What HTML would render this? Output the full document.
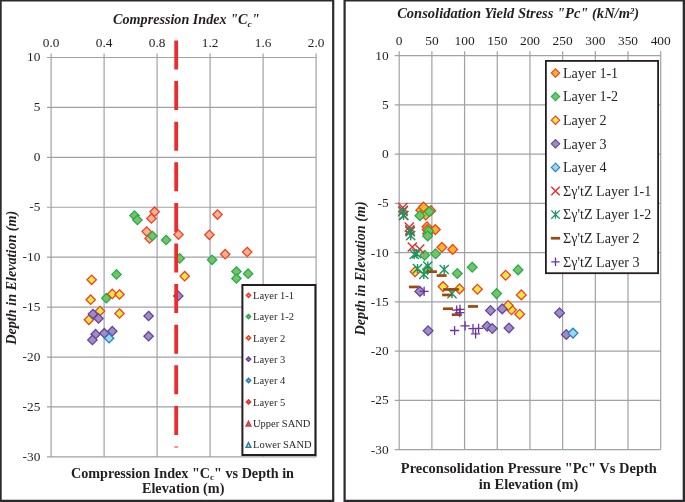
<!DOCTYPE html>
<html lang="en"><head><meta charset="utf-8"><title>Compression Index and Consolidation Yield Stress vs Depth</title>
<style>html,body{margin:0;padding:0;background:#fff}body{width:685px;height:502px;overflow:hidden}svg{display:block}</style>
</head><body>
<svg width="685" height="502" viewBox="0 0 685 502" font-family='"Liberation Serif", serif' fill="#231f20">
<rect x="0" y="0" width="685" height="502" fill="#fff"/>
<path fill-rule="evenodd" fill="#2c2a2c" d="M0 0H334.3V502H0ZM1.7 1.6V499.8H332.1V1.6Z"/>
<path fill-rule="evenodd" fill="#2c2a2c" d="M343.5 0H685V502H343.5ZM345.7 1.6V499.8H682.7V1.6Z"/>
<path d="M51.10 53.50V456.90M104.10 53.50V456.90M157.10 53.50V456.90M210.10 53.50V456.90M263.10 53.50V456.90M316.10 53.50V456.90M47.00 57.50H316.10M47.00 107.42H316.10M47.00 157.35H316.10M47.00 207.27H316.10M47.00 257.20H316.10M47.00 307.12H316.10M47.00 357.05H316.10M47.00 406.97H316.10M47.00 456.90H316.10" fill="none" stroke="#a0a2a7" stroke-width="1.2"/>
<path d="M399.20 51.20V449.60M431.89 51.20V449.60M464.57 51.20V449.60M497.26 51.20V449.60M529.95 51.20V449.60M562.64 51.20V449.60M595.33 51.20V449.60M628.01 51.20V449.60M660.70 51.20V449.60M394.70 55.70H660.70M394.70 104.94H660.70M394.70 154.18H660.70M394.70 203.41H660.70M394.70 252.65H660.70M394.70 301.89H660.70M394.70 351.12H660.70M394.70 400.36H660.70M394.70 449.60H660.70" fill="none" stroke="#a0a2a7" stroke-width="1.2"/>
<text x="51.1" y="46.5" font-size="13.3" text-anchor="middle">0.0</text>
<text x="104.1" y="46.5" font-size="13.3" text-anchor="middle">0.4</text>
<text x="157.1" y="46.5" font-size="13.3" text-anchor="middle">0.8</text>
<text x="210.1" y="46.5" font-size="13.3" text-anchor="middle">1.2</text>
<text x="263.1" y="46.5" font-size="13.3" text-anchor="middle">1.6</text>
<text x="316.1" y="46.5" font-size="13.3" text-anchor="middle">2.0</text>
<text x="40.3" y="61.3" font-size="13.3" text-anchor="end">10</text>
<text x="40.3" y="111.2" font-size="13.3" text-anchor="end">5</text>
<text x="40.3" y="161.2" font-size="13.3" text-anchor="end">0</text>
<text x="40.3" y="211.1" font-size="13.3" text-anchor="end">-5</text>
<text x="40.3" y="261.0" font-size="13.3" text-anchor="end">-10</text>
<text x="40.3" y="310.9" font-size="13.3" text-anchor="end">-15</text>
<text x="40.3" y="360.8" font-size="13.3" text-anchor="end">-20</text>
<text x="40.3" y="410.8" font-size="13.3" text-anchor="end">-25</text>
<text x="40.3" y="460.7" font-size="13.3" text-anchor="end">-30</text>
<text x="399.2" y="44.7" font-size="13.4" text-anchor="middle">0</text>
<text x="431.9" y="44.7" font-size="13.4" text-anchor="middle">50</text>
<text x="464.6" y="44.7" font-size="13.4" text-anchor="middle">100</text>
<text x="497.3" y="44.7" font-size="13.4" text-anchor="middle">150</text>
<text x="530.0" y="44.7" font-size="13.4" text-anchor="middle">200</text>
<text x="562.6" y="44.7" font-size="13.4" text-anchor="middle">250</text>
<text x="595.3" y="44.7" font-size="13.4" text-anchor="middle">300</text>
<text x="628.0" y="44.7" font-size="13.4" text-anchor="middle">350</text>
<text x="660.7" y="44.7" font-size="13.4" text-anchor="middle">400</text>
<text x="388.6" y="59.7" font-size="13.4" text-anchor="end">10</text>
<text x="388.6" y="108.9" font-size="13.4" text-anchor="end">5</text>
<text x="388.6" y="158.2" font-size="13.4" text-anchor="end">0</text>
<text x="388.6" y="207.4" font-size="13.4" text-anchor="end">-5</text>
<text x="388.6" y="256.7" font-size="13.4" text-anchor="end">-10</text>
<text x="388.6" y="305.9" font-size="13.4" text-anchor="end">-15</text>
<text x="388.6" y="355.1" font-size="13.4" text-anchor="end">-20</text>
<text x="388.6" y="404.4" font-size="13.4" text-anchor="end">-25</text>
<text x="388.6" y="453.6" font-size="13.4" text-anchor="end">-30</text>
<text x="186.3" y="24.3" font-size="13.8" textLength="146.5" lengthAdjust="spacingAndGlyphs" font-weight="bold" font-style="italic" text-anchor="middle">Compression Index "C<tspan font-size="9.2" dy="3">c</tspan><tspan dy="-3">"</tspan></text>
<text x="518.2" y="17.8" font-size="14" textLength="242" lengthAdjust="spacingAndGlyphs" font-weight="bold" font-style="italic" text-anchor="middle">Consolidation Yield Stress "Pc" (kN/m<tspan font-size="8.5" dy="-4.2">2</tspan><tspan dy="4.2">)</tspan></text>
<text transform="translate(16.3 277.7) rotate(-90)" font-size="13.8" textLength="134" lengthAdjust="spacingAndGlyphs" font-weight="bold" font-style="italic" text-anchor="middle">Depth in Elevation (m)</text>
<text transform="translate(364.5 268.4) rotate(-90)" font-size="13.8" textLength="134" lengthAdjust="spacingAndGlyphs" font-weight="bold" font-style="italic" text-anchor="middle">Depth in Elevation (m)</text>
<text x="182.5" y="477.6" font-size="13.9" textLength="223" lengthAdjust="spacingAndGlyphs" font-weight="bold" text-anchor="middle">Compression Index "C<tspan font-size="8.8" dy="2.8">c</tspan><tspan dy="-2.8">" vs Depth in</tspan></text>
<text x="183.2" y="493.3" font-size="13.9" textLength="82.5" lengthAdjust="spacingAndGlyphs" font-weight="bold" text-anchor="middle">Elevation (m)</text>
<text x="528.8" y="472.9" font-size="14.4" textLength="256" lengthAdjust="spacingAndGlyphs" font-weight="bold" text-anchor="middle">Preconsolidation Pressure "Pc" Vs Depth</text>
<text x="528.6" y="488.7" font-size="14.4" textLength="99.5" lengthAdjust="spacingAndGlyphs" font-weight="bold" text-anchor="middle">in Elevation (m)</text>
<path d="M154.6 207.0L159.3 211.7L154.6 216.4L149.9 211.7Z" fill="#f8b48c" stroke="#f03c28" stroke-width="1.25"/>
<path d="M151.4 213.7L156.1 218.4L151.4 223.1L146.7 218.4Z" fill="#f8b48c" stroke="#f03c28" stroke-width="1.25"/>
<path d="M146.7 226.9L151.4 231.6L146.7 236.3L142.0 231.6Z" fill="#f8b48c" stroke="#f03c28" stroke-width="1.25"/>
<path d="M149.6 233.8L154.3 238.5L149.6 243.2L144.9 238.5Z" fill="#f8b48c" stroke="#f03c28" stroke-width="1.25"/>
<path d="M209.4 230.1L214.1 234.8L209.4 239.5L204.7 234.8Z" fill="#f8b48c" stroke="#f03c28" stroke-width="1.25"/>
<path d="M217.5 209.9L222.2 214.6L217.5 219.3L212.8 214.6Z" fill="#f8b48c" stroke="#f03c28" stroke-width="1.25"/>
<path d="M225.2 249.5L229.9 254.2L225.2 258.9L220.5 254.2Z" fill="#f8b48c" stroke="#f03c28" stroke-width="1.25"/>
<path d="M247.2 247.3L251.9 252.0L247.2 256.7L242.5 252.0Z" fill="#f8b48c" stroke="#f03c28" stroke-width="1.25"/>
<path d="M134.5 210.9L139.2 215.6L134.5 220.3L129.8 215.6Z" fill="#78c266" stroke="#22ad4e" stroke-width="1.25"/>
<path d="M137.4 215.2L142.1 219.9L137.4 224.6L132.7 219.9Z" fill="#78c266" stroke="#22ad4e" stroke-width="1.25"/>
<path d="M152.4 231.3L157.1 236.0L152.4 240.7L147.7 236.0Z" fill="#78c266" stroke="#22ad4e" stroke-width="1.25"/>
<path d="M166.1 235.3L170.8 240.0L166.1 244.7L161.4 240.0Z" fill="#78c266" stroke="#22ad4e" stroke-width="1.25"/>
<path d="M179.7 253.7L184.4 258.4L179.7 263.1L175.0 258.4Z" fill="#78c266" stroke="#22ad4e" stroke-width="1.25"/>
<path d="M212.1 255.1L216.8 259.8L212.1 264.5L207.4 259.8Z" fill="#78c266" stroke="#22ad4e" stroke-width="1.25"/>
<path d="M236.4 266.8L241.1 271.5L236.4 276.2L231.7 271.5Z" fill="#78c266" stroke="#22ad4e" stroke-width="1.25"/>
<path d="M236.4 273.8L241.1 278.5L236.4 283.2L231.7 278.5Z" fill="#78c266" stroke="#22ad4e" stroke-width="1.25"/>
<path d="M248.1 269.0L252.8 273.7L248.1 278.4L243.4 273.7Z" fill="#78c266" stroke="#22ad4e" stroke-width="1.25"/>
<path d="M116.5 269.7L121.2 274.4L116.5 279.1L111.8 274.4Z" fill="#78c266" stroke="#22ad4e" stroke-width="1.25"/>
<path d="M106.3 293.5L111.0 298.2L106.3 302.9L101.6 298.2Z" fill="#78c266" stroke="#22ad4e" stroke-width="1.25"/>
<path d="M91.7 275.1L96.4 279.8L91.7 284.5L87.0 279.8Z" fill="#ece83a" stroke="#f03c28" stroke-width="1.25"/>
<path d="M90.7 295.0L95.4 299.7L90.7 304.4L86.0 299.7Z" fill="#ece83a" stroke="#f03c28" stroke-width="1.25"/>
<path d="M112.3 289.2L117.0 293.9L112.3 298.6L107.6 293.9Z" fill="#ece83a" stroke="#f03c28" stroke-width="1.25"/>
<path d="M119.5 289.8L124.2 294.5L119.5 299.2L114.8 294.5Z" fill="#ece83a" stroke="#f03c28" stroke-width="1.25"/>
<path d="M184.7 271.5L189.4 276.2L184.7 280.9L180.0 276.2Z" fill="#ece83a" stroke="#f03c28" stroke-width="1.25"/>
<path d="M100.0 306.4L104.7 311.1L100.0 315.8L95.3 311.1Z" fill="#ece83a" stroke="#f03c28" stroke-width="1.25"/>
<path d="M119.5 308.8L124.2 313.5L119.5 318.2L114.8 313.5Z" fill="#ece83a" stroke="#f03c28" stroke-width="1.25"/>
<path d="M88.9 315.1L93.6 319.8L88.9 324.5L84.2 319.8Z" fill="#ece83a" stroke="#f03c28" stroke-width="1.25"/>
<path d="M178.3 291.2L183.0 295.9L178.3 300.6L173.6 295.9Z" fill="#9b8ec2" stroke="#6b3fa0" stroke-width="1.25"/>
<path d="M92.9 309.3L97.6 314.0L92.9 318.7L88.2 314.0Z" fill="#9b8ec2" stroke="#6b3fa0" stroke-width="1.25"/>
<path d="M98.5 313.8L103.2 318.5L98.5 323.2L93.8 318.5Z" fill="#9b8ec2" stroke="#6b3fa0" stroke-width="1.25"/>
<path d="M148.6 311.3L153.3 316.0L148.6 320.7L143.9 316.0Z" fill="#9b8ec2" stroke="#6b3fa0" stroke-width="1.25"/>
<path d="M148.6 331.5L153.3 336.2L148.6 340.9L143.9 336.2Z" fill="#9b8ec2" stroke="#6b3fa0" stroke-width="1.25"/>
<path d="M95.6 329.5L100.3 334.2L95.6 338.9L90.9 334.2Z" fill="#9b8ec2" stroke="#6b3fa0" stroke-width="1.25"/>
<path d="M104.3 328.5L109.0 333.2L104.3 337.9L99.6 333.2Z" fill="#9b8ec2" stroke="#6b3fa0" stroke-width="1.25"/>
<path d="M112.3 326.5L117.0 331.2L112.3 335.9L107.6 331.2Z" fill="#9b8ec2" stroke="#6b3fa0" stroke-width="1.25"/>
<path d="M92.4 335.2L97.1 339.9L92.4 344.6L87.7 339.9Z" fill="#9b8ec2" stroke="#6b3fa0" stroke-width="1.25"/>
<path d="M109.1 333.5L113.8 338.2L109.1 342.9L104.4 338.2Z" fill="#a0d6e6" stroke="#1b7fc6" stroke-width="1.25"/>
<rect x="242.4" y="285" width="73" height="170" fill="#fff" stroke="#231f20" stroke-width="2"/>
<path d="M248.5 293.2L250.6 295.3L248.5 297.4L246.4 295.3Z" fill="#f8b48c" stroke="#f03c28" stroke-width="1.5"/>
<text x="253.0" y="298.9" font-size="10.5">Layer 1-1</text>
<path d="M248.5 314.5L250.6 316.6L248.5 318.7L246.4 316.6Z" fill="#78c266" stroke="#22ad4e" stroke-width="1.5"/>
<text x="253.0" y="320.2" font-size="10.5">Layer 1-2</text>
<path d="M248.5 335.8L250.6 337.9L248.5 340.0L246.4 337.9Z" fill="#ece83a" stroke="#f03c28" stroke-width="1.5"/>
<text x="253.0" y="341.5" font-size="10.5">Layer 2</text>
<path d="M248.5 357.1L250.6 359.2L248.5 361.3L246.4 359.2Z" fill="#9b8ec2" stroke="#6b3fa0" stroke-width="1.5"/>
<text x="253.0" y="362.8" font-size="10.5">Layer 3</text>
<path d="M248.5 378.4L250.6 380.5L248.5 382.6L246.4 380.5Z" fill="#a0d6e6" stroke="#1b7fc6" stroke-width="1.5"/>
<text x="253.0" y="384.1" font-size="10.5">Layer 4</text>
<path d="M248.5 399.8L250.6 401.9L248.5 404.0L246.4 401.9Z" fill="#b45fa8" stroke="#ee3124" stroke-width="1.5"/>
<text x="253.0" y="405.5" font-size="10.5">Layer 5</text>
<path d="M248.5 421.3L250.9 426.1L246.1 426.1Z" fill="#4a90d9" stroke="#ee3124" stroke-width="1.4"/>
<text x="253.0" y="426.8" font-size="10.5">Upper SAND</text>
<path d="M248.5 442.6L250.9 447.4L246.1 447.4Z" fill="#f3e336" stroke="#1b7fc6" stroke-width="1.4"/>
<text x="253.0" y="448.1" font-size="10.5">Lower SAND</text>
<path d="M176.2 40.4V447.4" stroke="#ee2a2b" stroke-width="3.8" stroke-dasharray="29 11.62" fill="none"/>
<path d="M178.5 229.9L183.2 234.6L178.5 239.3L173.8 234.6Z" fill="#f8b48c" stroke="#f03c28" stroke-width="1.25"/>
<path d="M420.8 205.3L425.7 210.2L420.8 215.1L415.9 210.2Z" fill="#fbb91f" stroke="#f03c28" stroke-width="1.25"/>
<path d="M423.5 202.2L428.4 207.1L423.5 212.0L418.6 207.1Z" fill="#fbb91f" stroke="#f03c28" stroke-width="1.25"/>
<path d="M430.8 205.8L435.7 210.7L430.8 215.6L425.9 210.7Z" fill="#fbb91f" stroke="#f03c28" stroke-width="1.25"/>
<path d="M425.7 210.1L430.6 215.0L425.7 219.9L420.8 215.0Z" fill="#fbb91f" stroke="#f03c28" stroke-width="1.25"/>
<path d="M427.0 221.9L431.9 226.8L427.0 231.7L422.1 226.8Z" fill="#fbb91f" stroke="#f03c28" stroke-width="1.25"/>
<path d="M435.3 224.7L440.2 229.6L435.3 234.5L430.4 229.6Z" fill="#fbb91f" stroke="#f03c28" stroke-width="1.25"/>
<path d="M427.2 224.8L432.1 229.7L427.2 234.6L422.3 229.7Z" fill="#fbb91f" stroke="#f03c28" stroke-width="1.25"/>
<path d="M427.6 228.8L432.5 233.7L427.6 238.6L422.7 233.7Z" fill="#fbb91f" stroke="#f03c28" stroke-width="1.25"/>
<path d="M441.9 242.4L446.8 247.3L441.9 252.2L437.0 247.3Z" fill="#fbb91f" stroke="#f03c28" stroke-width="1.25"/>
<path d="M452.7 244.5L457.6 249.4L452.7 254.3L447.8 249.4Z" fill="#fbb91f" stroke="#f03c28" stroke-width="1.25"/>
<path d="M419.9 210.8L424.8 215.7L419.9 220.6L415.0 215.7Z" fill="#78c266" stroke="#22ad4e" stroke-width="1.25"/>
<path d="M429.2 206.8L434.1 211.7L429.2 216.6L424.3 211.7Z" fill="#78c266" stroke="#22ad4e" stroke-width="1.25"/>
<path d="M428.6 226.1L433.5 231.0L428.6 235.9L423.7 231.0Z" fill="#78c266" stroke="#22ad4e" stroke-width="1.25"/>
<path d="M427.7 231.0L432.6 235.9L427.7 240.8L422.8 235.9Z" fill="#78c266" stroke="#22ad4e" stroke-width="1.25"/>
<path d="M424.7 250.4L429.6 255.3L424.7 260.2L419.8 255.3Z" fill="#78c266" stroke="#22ad4e" stroke-width="1.25"/>
<path d="M435.6 248.9L440.5 253.8L435.6 258.7L430.7 253.8Z" fill="#78c266" stroke="#22ad4e" stroke-width="1.25"/>
<path d="M472.2 262.3L477.1 267.2L472.2 272.1L467.3 267.2Z" fill="#78c266" stroke="#22ad4e" stroke-width="1.25"/>
<path d="M457.3 268.6L462.2 273.5L457.3 278.4L452.4 273.5Z" fill="#78c266" stroke="#22ad4e" stroke-width="1.25"/>
<path d="M427.4 264.5L432.3 269.4L427.4 274.3L422.5 269.4Z" fill="#78c266" stroke="#22ad4e" stroke-width="1.25"/>
<path d="M518.1 265.0L523.0 269.9L518.1 274.8L513.2 269.9Z" fill="#78c266" stroke="#22ad4e" stroke-width="1.25"/>
<path d="M496.6 288.7L501.5 293.6L496.6 298.5L491.7 293.6Z" fill="#78c266" stroke="#22ad4e" stroke-width="1.25"/>
<path d="M415.1 266.8L420.0 271.7L415.1 276.6L410.2 271.7Z" fill="#ece83a" stroke="#f03c28" stroke-width="1.25"/>
<path d="M443.1 281.7L448.0 286.6L443.1 291.5L438.2 286.6Z" fill="#ece83a" stroke="#f03c28" stroke-width="1.25"/>
<path d="M459.5 284.0L464.4 288.9L459.5 293.8L454.6 288.9Z" fill="#ece83a" stroke="#f03c28" stroke-width="1.25"/>
<path d="M477.4 284.4L482.3 289.3L477.4 294.2L472.5 289.3Z" fill="#ece83a" stroke="#f03c28" stroke-width="1.25"/>
<path d="M505.7 270.4L510.6 275.3L505.7 280.2L500.8 275.3Z" fill="#ece83a" stroke="#f03c28" stroke-width="1.25"/>
<path d="M521.3 290.0L526.2 294.9L521.3 299.8L516.4 294.9Z" fill="#ece83a" stroke="#f03c28" stroke-width="1.25"/>
<path d="M511.5 304.9L516.4 309.8L511.5 314.7L506.6 309.8Z" fill="#ece83a" stroke="#f03c28" stroke-width="1.25"/>
<path d="M508.2 300.6L513.1 305.5L508.2 310.4L503.3 305.5Z" fill="#ece83a" stroke="#f03c28" stroke-width="1.25"/>
<path d="M519.7 309.4L524.6 314.3L519.7 319.2L514.8 314.3Z" fill="#ece83a" stroke="#f03c28" stroke-width="1.25"/>
<path d="M419.9 286.5L424.8 291.4L419.9 296.3L415.0 291.4Z" fill="#9b8ec2" stroke="#6b3fa0" stroke-width="1.25"/>
<path d="M490.5 305.6L495.4 310.5L490.5 315.4L485.6 310.5Z" fill="#9b8ec2" stroke="#6b3fa0" stroke-width="1.25"/>
<path d="M428.1 325.9L433.0 330.8L428.1 335.7L423.2 330.8Z" fill="#9b8ec2" stroke="#6b3fa0" stroke-width="1.25"/>
<path d="M487.2 321.4L492.1 326.3L487.2 331.2L482.3 326.3Z" fill="#9b8ec2" stroke="#6b3fa0" stroke-width="1.25"/>
<path d="M492.3 323.6L497.2 328.5L492.3 333.4L487.4 328.5Z" fill="#9b8ec2" stroke="#6b3fa0" stroke-width="1.25"/>
<path d="M502.2 304.0L507.1 308.9L502.2 313.8L497.3 308.9Z" fill="#9b8ec2" stroke="#6b3fa0" stroke-width="1.25"/>
<path d="M509.0 323.1L513.9 328.0L509.0 332.9L504.1 328.0Z" fill="#9b8ec2" stroke="#6b3fa0" stroke-width="1.25"/>
<path d="M559.5 308.0L564.4 312.9L559.5 317.8L554.6 312.9Z" fill="#9b8ec2" stroke="#6b3fa0" stroke-width="1.25"/>
<path d="M566.3 329.6L571.2 334.5L566.3 339.4L561.4 334.5Z" fill="#9b8ec2" stroke="#6b3fa0" stroke-width="1.25"/>
<path d="M573.0 328.2L577.9 333.1L573.0 338.0L568.1 333.1Z" fill="#a0d6e6" stroke="#1b7fc6" stroke-width="1.25"/>
<path d="M398.2 203.0L407.4 212.2M398.2 212.2L407.4 203.0" fill="none" stroke="#ee2a2b" stroke-width="1.4"/>
<path d="M398.7 205.7L407.9 214.9M398.7 214.9L407.9 205.7" fill="none" stroke="#ee2a2b" stroke-width="1.4"/>
<path d="M399.3 210.9L408.5 220.1M399.3 220.1L408.5 210.9" fill="none" stroke="#ee2a2b" stroke-width="1.4"/>
<path d="M404.7 222.5L413.9 231.7M404.7 231.7L413.9 222.5" fill="none" stroke="#ee2a2b" stroke-width="1.4"/>
<path d="M405.2 225.3L414.4 234.5M405.2 234.5L414.4 225.3" fill="none" stroke="#ee2a2b" stroke-width="1.4"/>
<path d="M405.7 227.1L414.9 236.3M405.7 236.3L414.9 227.1" fill="none" stroke="#ee2a2b" stroke-width="1.4"/>
<path d="M407.7 242.4L416.9 251.6M407.7 251.6L416.9 242.4" fill="none" stroke="#ee2a2b" stroke-width="1.4"/>
<path d="M415.1 244.6L424.3 253.8M415.1 253.8L424.3 244.6" fill="none" stroke="#ee2a2b" stroke-width="1.4"/>
<path d="M398.2 207.1L407.4 216.3M398.2 216.3L407.4 207.1M402.8 207.1L402.8 216.3" fill="none" stroke="#1c9460" stroke-width="1.4"/>
<path d="M398.9 210.9L408.1 220.1M398.9 220.1L408.1 210.9M403.5 210.9L403.5 220.1" fill="none" stroke="#1c9460" stroke-width="1.4"/>
<path d="M405.4 226.5L414.6 235.7M405.4 235.7L414.6 226.5M410.0 226.5L410.0 235.7" fill="none" stroke="#1c9460" stroke-width="1.4"/>
<path d="M406.1 231.1L415.3 240.3M406.1 240.3L415.3 231.1M410.7 231.1L410.7 240.3" fill="none" stroke="#1c9460" stroke-width="1.4"/>
<path d="M409.7 249.8L418.9 259.0M409.7 259.0L418.9 249.8M414.3 249.8L414.3 259.0" fill="none" stroke="#1c9460" stroke-width="1.4"/>
<path d="M412.0 249.1L421.2 258.3M412.0 258.3L421.2 249.1M416.6 249.1L416.6 258.3" fill="none" stroke="#1c9460" stroke-width="1.4"/>
<path d="M412.9 264.0L422.1 273.2M412.9 273.2L422.1 264.0M417.5 264.0L417.5 273.2" fill="none" stroke="#1c9460" stroke-width="1.4"/>
<path d="M423.2 261.4L432.4 270.6M423.2 270.6L432.4 261.4M427.8 261.4L427.8 270.6" fill="none" stroke="#1c9460" stroke-width="1.4"/>
<path d="M419.2 269.7L428.4 278.9M419.2 278.9L428.4 269.7M423.8 269.7L423.8 278.9" fill="none" stroke="#1c9460" stroke-width="1.4"/>
<path d="M439.6 264.9L448.8 274.1M439.6 274.1L448.8 264.9M444.2 264.9L444.2 274.1" fill="none" stroke="#1c9460" stroke-width="1.4"/>
<path d="M447.4 289.0L456.6 298.2M447.4 298.2L456.6 289.0M452.0 289.0L452.0 298.2" fill="none" stroke="#1c9460" stroke-width="1.4"/>
<rect x="426.9" y="270.3" width="10" height="2.7" fill="#9a4a0c"/>
<rect x="436.6" y="274.2" width="10" height="2.7" fill="#9a4a0c"/>
<rect x="408.9" y="285.6" width="10" height="2.7" fill="#9a4a0c"/>
<rect x="443.2" y="288.1" width="10" height="2.7" fill="#9a4a0c"/>
<rect x="448.9" y="288.1" width="10" height="2.7" fill="#9a4a0c"/>
<rect x="442.1" y="293.6" width="10" height="2.7" fill="#9a4a0c"/>
<rect x="443.0" y="307.4" width="10" height="2.7" fill="#9a4a0c"/>
<rect x="468.0" y="305.1" width="10" height="2.7" fill="#9a4a0c"/>
<rect x="451.8" y="313.3" width="10" height="2.7" fill="#9a4a0c"/>
<path d="M419.5 291.4L428.7 291.4M424.1 286.8L424.1 296.0" fill="none" stroke="#6a35a2" stroke-width="1.3"/>
<path d="M452.1 310.1L461.3 310.1M456.7 305.5L456.7 314.7" fill="none" stroke="#6a35a2" stroke-width="1.3"/>
<path d="M455.4 309.3L464.6 309.3M460.0 304.7L460.0 313.9" fill="none" stroke="#6a35a2" stroke-width="1.3"/>
<path d="M455.1 312.7L464.3 312.7M459.7 308.1L459.7 317.3" fill="none" stroke="#6a35a2" stroke-width="1.3"/>
<path d="M450.0 330.5L459.2 330.5M454.6 325.9L454.6 335.1" fill="none" stroke="#6a35a2" stroke-width="1.3"/>
<path d="M460.5 325.9L469.7 325.9M465.1 321.3L465.1 330.5" fill="none" stroke="#6a35a2" stroke-width="1.3"/>
<path d="M468.4 328.6L477.6 328.6M473.0 324.0L473.0 333.2" fill="none" stroke="#6a35a2" stroke-width="1.3"/>
<path d="M474.0 328.4L483.2 328.4M478.6 323.8L478.6 333.0" fill="none" stroke="#6a35a2" stroke-width="1.3"/>
<path d="M471.0 333.9L480.2 333.9M475.6 329.3L475.6 338.5" fill="none" stroke="#6a35a2" stroke-width="1.3"/>
<rect x="545.9" y="60.9" width="112.2" height="212.3" fill="#fff" stroke="#231f20" stroke-width="1.8"/>
<path d="M555.5 68.8L559.7 73.0L555.5 77.2L551.3 73.0Z" fill="#fbb91f" stroke="#f03c28" stroke-width="1.1"/>
<text x="563" y="77.8" font-size="14.1">Layer 1-1</text>
<path d="M555.5 92.4L559.7 96.6L555.5 100.8L551.3 96.6Z" fill="#78c266" stroke="#22ad4e" stroke-width="1.1"/>
<text x="563" y="101.4" font-size="14.1">Layer 1-2</text>
<path d="M555.5 116.0L559.7 120.2L555.5 124.4L551.3 120.2Z" fill="#ece83a" stroke="#f03c28" stroke-width="1.1"/>
<text x="563" y="125.0" font-size="14.1">Layer 2</text>
<path d="M555.5 139.6L559.7 143.8L555.5 148.0L551.3 143.8Z" fill="#9b8ec2" stroke="#6b3fa0" stroke-width="1.1"/>
<text x="563" y="148.6" font-size="14.1">Layer 3</text>
<path d="M555.5 163.2L559.7 167.4L555.5 171.6L551.3 167.4Z" fill="#a0d6e6" stroke="#1b7fc6" stroke-width="1.1"/>
<text x="563" y="172.2" font-size="14.1">Layer 4</text>
<path d="M551.3 186.8L559.7 195.2M551.3 195.2L559.7 186.8" fill="none" stroke="#ee2a2b" stroke-width="1.4"/>
<text x="563" y="195.8" font-size="14.1">Σγ'tZ Layer 1-1</text>
<path d="M551.3 210.4L559.7 218.8M551.3 218.8L559.7 210.4M555.5 210.4L555.5 218.8" fill="none" stroke="#1c9460" stroke-width="1.3"/>
<text x="563" y="219.4" font-size="14.1">Σγ'tZ Layer 1-2</text>
<rect x="550.9" y="236.9" width="9.2" height="2.7" fill="#9a4a0c"/>
<text x="563" y="243.0" font-size="14.1">Σγ'tZ Layer 2</text>
<path d="M551.3 261.8L559.7 261.8M555.5 257.6L555.5 266.0" fill="none" stroke="#6a35a2" stroke-width="1.3"/>
<text x="563" y="266.6" font-size="14.1">Σγ'tZ Layer 3</text>
</svg>
</body></html>
